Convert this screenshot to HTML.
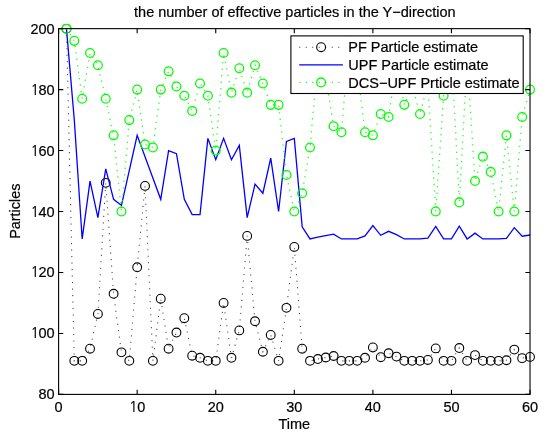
<!DOCTYPE html>
<html><head><meta charset="utf-8"><title>the number of effective particles in the Y-direction</title>
<style>html,body{margin:0;padding:0;background:#fff;}body{width:550px;height:440px;overflow:hidden;}svg{display:block;}</style>
</head><body>
<svg width="550" height="440" viewBox="0 0 550 440">
<rect x="0" y="0" width="550" height="440" fill="#fff"/>
<defs><clipPath id="c"><rect x="53.6" y="23.639999999999986" width="481.41999999999996" height="375.76"/></clipPath></defs>
<g clip-path="url(#c)">
<polyline points="66.46,28.64 74.31,360.87 82.17,360.87 90.03,348.68 97.89,313.93 105.74,182.87 113.60,293.82 121.46,352.34 129.31,360.87 137.17,267.30 145.03,185.92 152.88,360.87 160.74,298.69 168.60,348.68 176.46,332.53 184.31,318.20 192.17,355.69 200.03,357.82 207.88,360.87 215.74,360.87 223.60,302.96 231.45,357.82 239.31,330.39 247.17,235.90 255.03,321.25 262.88,351.73 270.74,334.96 278.60,360.87 286.45,307.84 294.31,246.88 302.17,348.68 310.02,360.87 317.88,359.04 325.74,357.52 333.60,356.00 341.45,360.87 349.31,360.87 357.17,360.87 365.02,357.82 372.88,347.46 380.74,357.21 388.59,353.25 396.45,356.60 404.31,360.87 412.17,360.87 420.02,360.87 427.88,359.96 435.74,348.38 443.59,360.87 451.45,360.87 459.31,348.07 467.16,360.87 475.02,355.08 482.88,360.87 490.74,360.87 498.59,360.87 506.45,360.26 514.31,349.59 522.16,358.13 530.02,356.91" fill="none" stroke="#1a1a1a" stroke-opacity="0.85" stroke-width="1.05" stroke-dasharray="1.05 5.45"/>
<g fill="none" stroke="#000" stroke-width="1.1"><circle cx="66.46" cy="28.64" r="4.4"/>
<circle cx="74.31" cy="360.87" r="4.4"/>
<circle cx="82.17" cy="360.87" r="4.4"/>
<circle cx="90.03" cy="348.68" r="4.4"/>
<circle cx="97.89" cy="313.93" r="4.4"/>
<circle cx="105.74" cy="182.87" r="4.4"/>
<circle cx="113.60" cy="293.82" r="4.4"/>
<circle cx="121.46" cy="352.34" r="4.4"/>
<circle cx="129.31" cy="360.87" r="4.4"/>
<circle cx="137.17" cy="267.30" r="4.4"/>
<circle cx="145.03" cy="185.92" r="4.4"/>
<circle cx="152.88" cy="360.87" r="4.4"/>
<circle cx="160.74" cy="298.69" r="4.4"/>
<circle cx="168.60" cy="348.68" r="4.4"/>
<circle cx="176.46" cy="332.53" r="4.4"/>
<circle cx="184.31" cy="318.20" r="4.4"/>
<circle cx="192.17" cy="355.69" r="4.4"/>
<circle cx="200.03" cy="357.82" r="4.4"/>
<circle cx="207.88" cy="360.87" r="4.4"/>
<circle cx="215.74" cy="360.87" r="4.4"/>
<circle cx="223.60" cy="302.96" r="4.4"/>
<circle cx="231.45" cy="357.82" r="4.4"/>
<circle cx="239.31" cy="330.39" r="4.4"/>
<circle cx="247.17" cy="235.90" r="4.4"/>
<circle cx="255.03" cy="321.25" r="4.4"/>
<circle cx="262.88" cy="351.73" r="4.4"/>
<circle cx="270.74" cy="334.96" r="4.4"/>
<circle cx="278.60" cy="360.87" r="4.4"/>
<circle cx="286.45" cy="307.84" r="4.4"/>
<circle cx="294.31" cy="246.88" r="4.4"/>
<circle cx="302.17" cy="348.68" r="4.4"/>
<circle cx="310.02" cy="360.87" r="4.4"/>
<circle cx="317.88" cy="359.04" r="4.4"/>
<circle cx="325.74" cy="357.52" r="4.4"/>
<circle cx="333.60" cy="356.00" r="4.4"/>
<circle cx="341.45" cy="360.87" r="4.4"/>
<circle cx="349.31" cy="360.87" r="4.4"/>
<circle cx="357.17" cy="360.87" r="4.4"/>
<circle cx="365.02" cy="357.82" r="4.4"/>
<circle cx="372.88" cy="347.46" r="4.4"/>
<circle cx="380.74" cy="357.21" r="4.4"/>
<circle cx="388.59" cy="353.25" r="4.4"/>
<circle cx="396.45" cy="356.60" r="4.4"/>
<circle cx="404.31" cy="360.87" r="4.4"/>
<circle cx="412.17" cy="360.87" r="4.4"/>
<circle cx="420.02" cy="360.87" r="4.4"/>
<circle cx="427.88" cy="359.96" r="4.4"/>
<circle cx="435.74" cy="348.38" r="4.4"/>
<circle cx="443.59" cy="360.87" r="4.4"/>
<circle cx="451.45" cy="360.87" r="4.4"/>
<circle cx="459.31" cy="348.07" r="4.4"/>
<circle cx="467.16" cy="360.87" r="4.4"/>
<circle cx="475.02" cy="355.08" r="4.4"/>
<circle cx="482.88" cy="360.87" r="4.4"/>
<circle cx="490.74" cy="360.87" r="4.4"/>
<circle cx="498.59" cy="360.87" r="4.4"/>
<circle cx="506.45" cy="360.26" r="4.4"/>
<circle cx="514.31" cy="349.59" r="4.4"/>
<circle cx="522.16" cy="358.13" r="4.4"/>
<circle cx="530.02" cy="356.91" r="4.4"/></g>
<polyline points="66.46,28.64 74.31,120.08 82.17,238.95 90.03,181.04 97.89,217.62 105.74,168.85 113.60,199.33 121.46,205.42 129.31,170.37 137.17,135.32 145.03,156.66 152.88,177.99 160.74,199.33 168.60,150.56 176.46,153.61 184.31,199.33 192.17,214.57 200.03,214.57 207.88,138.37 215.74,159.70 223.60,138.37 231.45,159.70 239.31,145.38 247.17,217.62 255.03,184.09 262.88,193.23 270.74,158.18 278.60,211.52 286.45,141.42 294.31,138.37 302.17,226.76 310.02,238.95 317.88,237.12 325.74,235.60 333.60,234.08 341.45,238.95 349.31,238.95 357.17,238.95 365.02,235.90 372.88,225.54 380.74,235.29 388.59,231.33 396.45,234.68 404.31,238.95 412.17,238.95 420.02,238.95 427.88,238.04 435.74,226.46 443.59,238.95 451.45,238.95 459.31,226.15 467.16,238.95 475.02,233.16 482.88,238.95 490.74,238.95 498.59,238.95 506.45,238.34 514.31,227.67 522.16,236.21 530.02,234.99" fill="none" stroke="#0000ff" stroke-width="1.3" stroke-linejoin="miter"/>
<polyline points="66.46,28.64 74.31,40.83 82.17,98.74 90.03,53.02 97.89,65.22 105.74,98.74 113.60,135.32 121.46,211.52 129.31,120.08 137.17,89.60 145.03,144.46 152.88,147.51 160.74,89.60 168.60,71.31 176.46,86.55 184.31,95.70 192.17,110.94 200.03,83.50 207.88,95.70 215.74,150.56 223.60,53.02 231.45,92.65 239.31,68.26 247.17,92.65 255.03,65.22 262.88,83.50 270.74,104.84 278.60,104.84 286.45,174.94 294.31,211.52 302.17,193.23 310.02,147.51 317.88,59.12 325.74,77.41 333.60,126.18 341.45,132.27 349.31,40.83 357.17,68.26 365.02,132.27 372.88,135.32 380.74,113.98 388.59,117.03 396.45,62.17 404.31,104.84 412.17,86.55 420.02,113.98 427.88,83.50 435.74,211.52 443.59,95.70 451.45,53.02 459.31,202.38 467.16,59.12 475.02,181.04 482.88,156.66 490.74,171.90 498.59,211.52 506.45,135.32 514.31,211.52 522.16,117.03 530.02,89.60" fill="none" stroke="#00ff00" stroke-opacity="0.85" stroke-width="1.3" stroke-dasharray="1.3 5.2"/>
<g fill="none" stroke="#00ff00" stroke-width="1.3"><circle cx="66.46" cy="28.64" r="4.4"/>
<circle cx="74.31" cy="40.83" r="4.4"/>
<circle cx="82.17" cy="98.74" r="4.4"/>
<circle cx="90.03" cy="53.02" r="4.4"/>
<circle cx="97.89" cy="65.22" r="4.4"/>
<circle cx="105.74" cy="98.74" r="4.4"/>
<circle cx="113.60" cy="135.32" r="4.4"/>
<circle cx="121.46" cy="211.52" r="4.4"/>
<circle cx="129.31" cy="120.08" r="4.4"/>
<circle cx="137.17" cy="89.60" r="4.4"/>
<circle cx="145.03" cy="144.46" r="4.4"/>
<circle cx="152.88" cy="147.51" r="4.4"/>
<circle cx="160.74" cy="89.60" r="4.4"/>
<circle cx="168.60" cy="71.31" r="4.4"/>
<circle cx="176.46" cy="86.55" r="4.4"/>
<circle cx="184.31" cy="95.70" r="4.4"/>
<circle cx="192.17" cy="110.94" r="4.4"/>
<circle cx="200.03" cy="83.50" r="4.4"/>
<circle cx="207.88" cy="95.70" r="4.4"/>
<circle cx="215.74" cy="150.56" r="4.4"/>
<circle cx="223.60" cy="53.02" r="4.4"/>
<circle cx="231.45" cy="92.65" r="4.4"/>
<circle cx="239.31" cy="68.26" r="4.4"/>
<circle cx="247.17" cy="92.65" r="4.4"/>
<circle cx="255.03" cy="65.22" r="4.4"/>
<circle cx="262.88" cy="83.50" r="4.4"/>
<circle cx="270.74" cy="104.84" r="4.4"/>
<circle cx="278.60" cy="104.84" r="4.4"/>
<circle cx="286.45" cy="174.94" r="4.4"/>
<circle cx="294.31" cy="211.52" r="4.4"/>
<circle cx="302.17" cy="193.23" r="4.4"/>
<circle cx="310.02" cy="147.51" r="4.4"/>
<circle cx="317.88" cy="59.12" r="4.4"/>
<circle cx="325.74" cy="77.41" r="4.4"/>
<circle cx="333.60" cy="126.18" r="4.4"/>
<circle cx="341.45" cy="132.27" r="4.4"/>
<circle cx="349.31" cy="40.83" r="4.4"/>
<circle cx="357.17" cy="68.26" r="4.4"/>
<circle cx="365.02" cy="132.27" r="4.4"/>
<circle cx="372.88" cy="135.32" r="4.4"/>
<circle cx="380.74" cy="113.98" r="4.4"/>
<circle cx="388.59" cy="117.03" r="4.4"/>
<circle cx="396.45" cy="62.17" r="4.4"/>
<circle cx="404.31" cy="104.84" r="4.4"/>
<circle cx="412.17" cy="86.55" r="4.4"/>
<circle cx="420.02" cy="113.98" r="4.4"/>
<circle cx="427.88" cy="83.50" r="4.4"/>
<circle cx="435.74" cy="211.52" r="4.4"/>
<circle cx="443.59" cy="95.70" r="4.4"/>
<circle cx="451.45" cy="53.02" r="4.4"/>
<circle cx="459.31" cy="202.38" r="4.4"/>
<circle cx="467.16" cy="59.12" r="4.4"/>
<circle cx="475.02" cy="181.04" r="4.4"/>
<circle cx="482.88" cy="156.66" r="4.4"/>
<circle cx="490.74" cy="171.90" r="4.4"/>
<circle cx="498.59" cy="211.52" r="4.4"/>
<circle cx="506.45" cy="135.32" r="4.4"/>
<circle cx="514.31" cy="211.52" r="4.4"/>
<circle cx="522.16" cy="117.03" r="4.4"/>
<circle cx="530.02" cy="89.60" r="4.4"/></g>
</g>
<rect x="58.60" y="28.64" width="471.42" height="365.76" fill="none" stroke="#000" stroke-width="1.1"/>
<path d="M58.60,394.40V389.70M58.60,28.64V33.34M137.17,394.40V389.70M137.17,28.64V33.34M215.74,394.40V389.70M215.74,28.64V33.34M294.31,394.40V389.70M294.31,28.64V33.34M372.88,394.40V389.70M372.88,28.64V33.34M451.45,394.40V389.70M451.45,28.64V33.34M530.02,394.40V389.70M530.02,28.64V33.34M58.60,394.40H63.30M530.02,394.40H525.32M58.60,333.44H63.30M530.02,333.44H525.32M58.60,272.48H63.30M530.02,272.48H525.32M58.60,211.52H63.30M530.02,211.52H525.32M58.60,150.56H63.30M530.02,150.56H525.32M58.60,89.60H63.30M530.02,89.60H525.32M58.60,28.64H63.30M530.02,28.64H525.32" stroke="#000" stroke-width="1.1" fill="none"/>
<g font-family="'Liberation Sans', Arial, Helvetica, sans-serif" stroke="#000" stroke-width="0.2" font-size="14.5" fill="#000"><text x="58.60" y="412" text-anchor="middle">0</text><text x="137.17" y="412" text-anchor="middle"><tspan font-family="NanumGothic, 'Liberation Sans', sans-serif">1</tspan><tspan dx="-0.7">0</tspan></text><text x="215.74" y="412" text-anchor="middle">20</text><text x="294.31" y="412" text-anchor="middle">30</text><text x="372.88" y="412" text-anchor="middle">40</text><text x="451.45" y="412" text-anchor="middle">50</text><text x="530.02" y="412" text-anchor="middle">60</text><text x="54.70" y="399.40" text-anchor="end">80</text><text x="54.70" y="338.44" text-anchor="end"><tspan font-family="NanumGothic, 'Liberation Sans', sans-serif">1</tspan><tspan dx="-0.7">00</tspan></text><text x="54.70" y="277.48" text-anchor="end"><tspan font-family="NanumGothic, 'Liberation Sans', sans-serif">1</tspan><tspan dx="-0.7">20</tspan></text><text x="54.70" y="216.52" text-anchor="end"><tspan font-family="NanumGothic, 'Liberation Sans', sans-serif">1</tspan><tspan dx="-0.7">40</tspan></text><text x="54.70" y="155.56" text-anchor="end"><tspan font-family="NanumGothic, 'Liberation Sans', sans-serif">1</tspan><tspan dx="-0.7">60</tspan></text><text x="54.70" y="94.60" text-anchor="end"><tspan font-family="NanumGothic, 'Liberation Sans', sans-serif">1</tspan><tspan dx="-0.7">80</tspan></text><text x="54.70" y="33.64" text-anchor="end">200</text></g>
<text font-family="'Liberation Sans', Arial, Helvetica, sans-serif" stroke="#000" stroke-width="0.2" font-size="14.5" x="294.3" y="429" text-anchor="middle">Time</text>
<text font-family="'Liberation Sans', Arial, Helvetica, sans-serif" stroke="#000" stroke-width="0.2" font-size="14.4" transform="translate(19.7,211.2) rotate(-90)" text-anchor="middle">Particles</text>
<text font-family="'Liberation Sans', Arial, Helvetica, sans-serif" stroke="#000" stroke-width="0.2" font-size="14.5" x="294.8" y="17.2" text-anchor="middle">the number of effective particles in the Y−direction</text>
<rect x="290.9" y="35.9" width="232.30" height="57.60" fill="#fff" stroke="#000" stroke-width="1.1"/>
<path d="M299.2,47.2H342.9" stroke="#1a1a1a" stroke-opacity="0.85" stroke-width="1.05" stroke-dasharray="1.05 5.45"/>
<circle cx="321.1" cy="47.2" r="4.4" fill="none" stroke="#000" stroke-width="1.1"/>
<path d="M299.2,64.8H342.9" stroke="#0000ff" stroke-width="1.3"/>
<path d="M299.2,82.4H342.9" stroke="#00ff00" stroke-opacity="0.85" stroke-width="1.3" stroke-dasharray="1.3 5.2"/>
<circle cx="321.1" cy="82.4" r="4.4" fill="none" stroke="#00ff00" stroke-width="1.3"/>
<text font-family="'Liberation Sans', Arial, Helvetica, sans-serif" stroke="#000" stroke-width="0.2" font-size="14.5" x="348.3" y="52.30">PF Particle estimate</text>
<text font-family="'Liberation Sans', Arial, Helvetica, sans-serif" stroke="#000" stroke-width="0.2" font-size="14.5" x="348.3" y="69.90">UPF Particle estimate</text>
<text font-family="'Liberation Sans', Arial, Helvetica, sans-serif" stroke="#000" stroke-width="0.2" font-size="14.5" x="348.3" y="87.50">DCS−UPF Prticle estimate</text>
</svg>
</body></html>
